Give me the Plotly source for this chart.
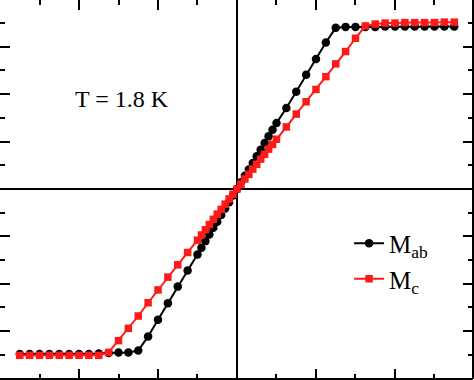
import plotly.graph_objects as go

# Magnetic field (T)
H = [-5.5, -5.25, -5.0, -4.75, -4.5, -4.25, -4.0, -3.75, -3.5, -3.25, -3.0, -2.75,
     -2.5, -2.25, -2.0, -1.75, -1.5, -1.25,
     -1.0, -0.9, -0.8, -0.7, -0.6, -0.5, -0.4, -0.3, -0.2, -0.1, 0.0,
     0.1, 0.2, 0.3, 0.4, 0.5, 0.6, 0.7, 0.8, 0.9, 1.0,
     1.25, 1.5, 1.75, 2.0, 2.25, 2.5, 2.75, 3.0, 3.25, 3.5, 3.75, 4.0, 4.25,
     4.5, 4.75, 5.0, 5.25, 5.5]

# Magnetization, in-plane (M_ab)
M_ab = [-3.48, -3.48, -3.48, -3.48, -3.48, -3.48, -3.48, -3.48, -3.47, -3.46, -3.45, -3.45,
        -3.41, -3.11, -2.76, -2.41, -2.06, -1.72,
        -1.38, -1.24, -1.10, -0.96, -0.82, -0.69, -0.55, -0.41, -0.28, -0.14, 0.0,
        0.14, 0.28, 0.41, 0.55, 0.69, 0.83, 0.97, 1.11, 1.25, 1.39,
        1.71, 2.05, 2.41, 2.74, 3.09, 3.40, 3.42, 3.42, 3.42, 3.42, 3.43, 3.43, 3.43,
        3.43, 3.43, 3.43, 3.43, 3.43]

# Magnetization, out-of-plane (M_c)
M_c = [-3.51, -3.51, -3.51, -3.51, -3.51, -3.51, -3.51, -3.51, -3.51, -3.45, -3.20, -2.94,
       -2.68, -2.40, -2.13, -1.86, -1.60, -1.34,
       -1.08, -0.97, -0.86, -0.75, -0.64, -0.53, -0.43, -0.32, -0.21, -0.11, 0.0,
       0.10, 0.21, 0.31, 0.42, 0.52, 0.63, 0.73, 0.84, 0.94, 1.05,
       1.31, 1.58, 1.84, 2.10, 2.37, 2.64, 2.90, 3.18, 3.44, 3.48, 3.50, 3.50, 3.51,
       3.51, 3.51, 3.51, 3.52, 3.52]

FONT = "Liberation Serif"

fig = go.Figure()
fig.add_trace(go.Scatter(
    x=H, y=M_ab, mode="lines+markers", name="M<sub>ab</sub>",
    line=dict(color="black", width=2),
    marker=dict(symbol="circle", size=8.5, color="black"),
))
fig.add_trace(go.Scatter(
    x=H, y=M_c, mode="lines+markers", name="M<sub>c</sub>",
    line=dict(color="#ff1a1a", width=2),
    marker=dict(symbol="square", size=7.5, color="#ff1a1a"),
))

axis_common = dict(
    showline=False, mirror="ticks", showgrid=False,
    ticks="inside", ticklen=10, tickwidth=2, tickcolor="black",
    showticklabels=False,
    zeroline=True, zerolinecolor="black", zerolinewidth=2,
)

fig.update_xaxes(range=[-6.0, 5.975], dtick=2, tick0=0,
                 minor=dict(ticks="inside", ticklen=5, tickwidth=2, tickcolor="black", dtick=1),
                 **axis_common)
fig.update_yaxes(range=[-4.009, 3.987], dtick=1, tick0=0,
                 minor=dict(ticks="inside", ticklen=5, tickwidth=2, tickcolor="black", dtick=0.5),
                 **axis_common)

# right and bottom frame lines
fig.add_shape(type="line", xref="paper", yref="paper", x0=1, x1=1, y0=0, y1=1,
              line=dict(color="black", width=2))
fig.add_shape(type="line", xref="paper", yref="paper", x0=0, x1=1, y0=0, y1=0,
              line=dict(color="black", width=2))

fig.add_annotation(x=-2.9, y=1.9, text="T = 1.8 K", showarrow=False,
                   font=dict(family=FONT, size=24, color="black"))

fig.update_layout(
    width=474, height=380,
    margin=dict(l=0, r=1, t=0, b=1),
    plot_bgcolor="white", paper_bgcolor="white",
    showlegend=True,
    legend=dict(x=0.738, y=0.418, xanchor="left", yanchor="top",
                font=dict(family=FONT, size=25, color="black"),
                bgcolor="rgba(0,0,0,0)", tracegroupgap=0),
)

fig.write_html("out.html", config={"displayModeBar": False},
               post_script="document.body.style.margin='0';")
